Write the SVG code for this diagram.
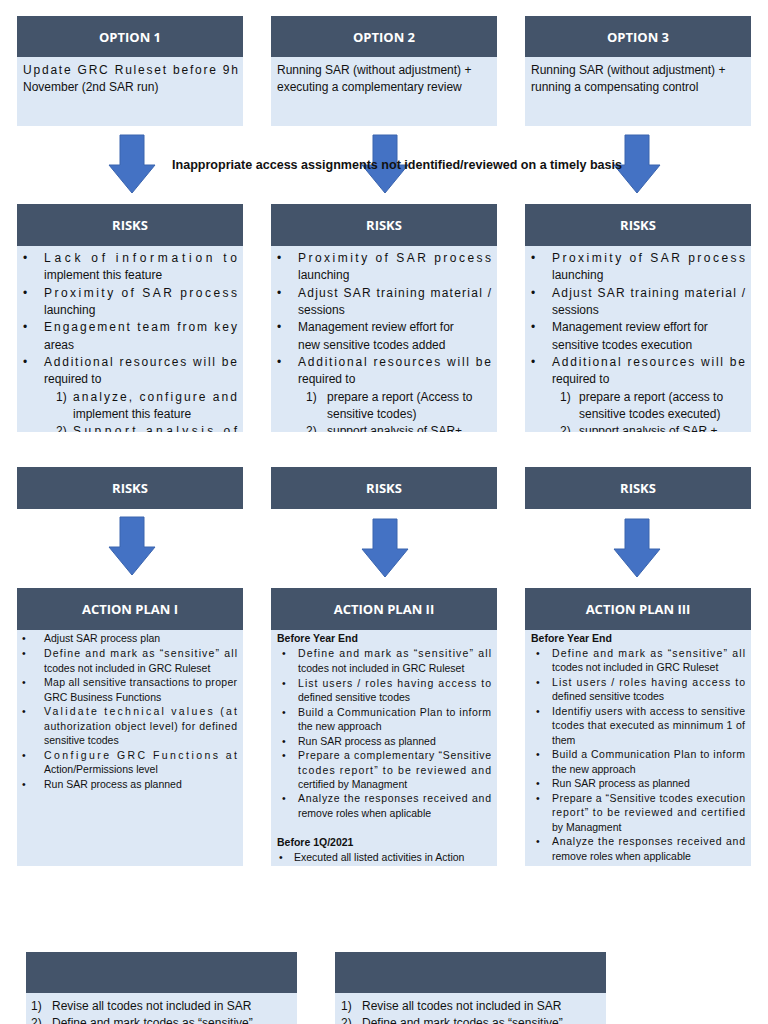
<svg xmlns="http://www.w3.org/2000/svg" width="768" height="1024" viewBox="0 0 768 1024">
<style>
.hd{fill:#44546A}
.bd{fill:#DDE8F5}
.ht{font-family:"Open Sans","Liberation Sans",sans-serif;font-weight:bold;font-size:13px;fill:#fff;text-anchor:middle}
.t{font-family:"Liberation Sans",sans-serif;font-size:12px;fill:#111}
.s{font-family:"Liberation Sans",sans-serif;font-size:10.5px;fill:#111}
.b{font-weight:bold}
.ar{fill:#4472C4;stroke:#3A64AE;stroke-width:1}
</style>
<defs>
<clipPath id="c1"><rect x="17" y="246" width="226" height="186"/></clipPath>
<clipPath id="c2"><rect x="271" y="246" width="226" height="186"/></clipPath>
<clipPath id="c3"><rect x="525" y="246" width="226" height="186"/></clipPath>
<clipPath id="cb"><rect x="0" y="993" width="768" height="31"/></clipPath>
<path id="arrow" d="M-12,0 H12 V30 H23 L0,58 L-23,30 H-12 Z"/>
</defs>
<rect width="768" height="1024" fill="#fff"/>

<g id="option1"><rect class="hd" x="17" y="16" width="226" height="41"/><rect class="bd" x="17" y="57" width="226" height="69"/>
<text class="ht" x="130" y="42">OPTION 1</text>
<text class="t" x="23" y="74" textLength="215" lengthAdjust="spacing">Update GRC Ruleset before 9h</text>
<text class="t" x="23" y="91">November (2nd SAR run)</text></g>
<g id="option2"><rect class="hd" x="271" y="16" width="226" height="41"/><rect class="bd" x="271" y="57" width="226" height="69"/>
<text class="ht" x="384" y="42">OPTION 2</text>
<text class="t" x="277" y="74">Running SAR (without adjustment) +</text>
<text class="t" x="277" y="91">executing a complementary review</text></g>
<g id="option3"><rect class="hd" x="525" y="16" width="226" height="41"/><rect class="bd" x="525" y="57" width="226" height="69"/>
<text class="ht" x="638" y="42">OPTION 3</text>
<text class="t" x="531" y="74">Running SAR (without adjustment) +</text>
<text class="t" x="531" y="91">running a compensating control</text></g>

<g id="connectors">
<use href="#arrow" class="ar" x="132" y="135"/>
<use href="#arrow" class="ar" x="385" y="135"/>
<use href="#arrow" class="ar" x="637" y="135"/>
<use href="#arrow" class="ar" x="132" y="517"/>
<use href="#arrow" class="ar" x="385" y="519"/>
<use href="#arrow" class="ar" x="637" y="519"/>
</g>
<text class="t b" x="397" y="169" text-anchor="middle" textLength="450" lengthAdjust="spacingAndGlyphs">Inappropriate access assignments not identified/reviewed on a timely basis</text>

<g id="risks1"><rect class="hd" x="17" y="204" width="226" height="42"/><rect class="bd" x="17" y="246" width="226" height="186"/>
<text class="ht" x="130" y="230">RISKS</text>
<g clip-path="url(#c1)" class="t">
<text x="23" y="262">•</text><text x="44" y="262" textLength="193" lengthAdjust="spacing">Lack of information to</text>
<text x="44" y="279">implement this feature</text>
<text x="23" y="297">•</text><text x="44" y="297" textLength="193" lengthAdjust="spacing">Proximity of SAR process</text>
<text x="44" y="314">launching</text>
<text x="23" y="331">•</text><text x="44" y="331" textLength="193" lengthAdjust="spacing">Engagement team from key</text>
<text x="44" y="349">areas</text>
<text x="23" y="366">•</text><text x="44" y="366" textLength="193" lengthAdjust="spacing">Additional resources will be</text>
<text x="44" y="383">required to</text>
<text x="56" y="401">1)</text><text x="73" y="401" textLength="164" lengthAdjust="spacing">analyze, configure and</text>
<text x="73" y="418">implement this feature</text>
<text x="56" y="435">2)</text><text x="73" y="435" textLength="164" lengthAdjust="spacing">Support analysis of</text>
</g></g>
<g id="risks2"><rect class="hd" x="271" y="204" width="226" height="42"/><rect class="bd" x="271" y="246" width="226" height="186"/>
<text class="ht" x="384" y="230">RISKS</text>
<g clip-path="url(#c2)" class="t">
<text x="277" y="262">•</text><text x="298" y="262" textLength="193" lengthAdjust="spacing">Proximity of SAR process</text>
<text x="298" y="279">launching</text>
<text x="277" y="297">•</text><text x="298" y="297" textLength="193" lengthAdjust="spacing">Adjust SAR training material /</text>
<text x="298" y="314">sessions</text>
<text x="277" y="331">•</text><text x="298" y="331">Management review effort for</text>
<text x="298" y="349">new sensitive tcodes added</text>
<text x="277" y="366">•</text><text x="298" y="366" textLength="193" lengthAdjust="spacing">Additional resources will be</text>
<text x="298" y="383">required to</text>
<text x="306" y="401">1)</text><text x="327" y="401">prepare a report (Access to</text>
<text x="327" y="418">sensitive tcodes)</text>
<text x="306" y="435">2)</text><text x="327" y="435">support analysis of SAR+</text>
</g></g>
<g id="risks3"><rect class="hd" x="525" y="204" width="226" height="42"/><rect class="bd" x="525" y="246" width="226" height="186"/>
<text class="ht" x="638" y="230">RISKS</text>
<g clip-path="url(#c3)" class="t">
<text x="531" y="262">•</text><text x="552" y="262" textLength="193" lengthAdjust="spacing">Proximity of SAR process</text>
<text x="552" y="279">launching</text>
<text x="531" y="297">•</text><text x="552" y="297" textLength="193" lengthAdjust="spacing">Adjust SAR training material /</text>
<text x="552" y="314">sessions</text>
<text x="531" y="331">•</text><text x="552" y="331">Management review effort for</text>
<text x="552" y="349">sensitive tcodes execution</text>
<text x="531" y="366">•</text><text x="552" y="366" textLength="193" lengthAdjust="spacing">Additional resources will be</text>
<text x="552" y="383">required to</text>
<text x="560" y="401">1)</text><text x="579" y="401">prepare a report (access to</text>
<text x="579" y="418">sensitive tcodes executed)</text>
<text x="560" y="435">2)</text><text x="579" y="435">support analysis of SAR +</text>
</g></g>

<g id="risksB1"><rect class="hd" x="17" y="467" width="226" height="42"/><text class="ht" x="130" y="493">RISKS</text></g>
<g id="risksB2"><rect class="hd" x="271" y="467" width="226" height="42"/><text class="ht" x="384" y="493">RISKS</text></g>
<g id="risksB3"><rect class="hd" x="525" y="467" width="226" height="42"/><text class="ht" x="638" y="493">RISKS</text></g>

<g id="plan1"><rect class="hd" x="17" y="588" width="226" height="42"/><rect class="bd" x="17" y="630" width="226" height="236"/>
<text class="ht" x="130" y="614">ACTION PLAN I</text>
<g class="s">
<text x="22" y="642">•</text><text x="44" y="642">Adjust SAR process plan</text>
<text x="22" y="657">•</text><text x="44" y="657" textLength="193" lengthAdjust="spacing">Define and mark as “sensitive” all</text>
<text x="44" y="672">tcodes not included in GRC Ruleset</text>
<text x="22" y="686">•</text><text x="44" y="686" textLength="193" lengthAdjust="spacing">Map all sensitive transactions to proper</text>
<text x="44" y="701">GRC Business Functions</text>
<text x="22" y="715">•</text><text x="44" y="715" textLength="193" lengthAdjust="spacing">Validate technical values (at</text>
<text x="44" y="730" textLength="193" lengthAdjust="spacing">authorization object level) for defined</text>
<text x="44" y="744">sensitive tcodes</text>
<text x="22" y="759">•</text><text x="44" y="759" textLength="193" lengthAdjust="spacing">Configure GRC Functions at</text>
<text x="44" y="773">Action/Permissions level</text>
<text x="22" y="788">•</text><text x="44" y="788">Run SAR process as planned</text>
</g></g>
<g id="plan2"><rect class="hd" x="271" y="588" width="226" height="42"/><rect class="bd" x="271" y="630" width="226" height="236"/>
<text class="ht" x="384" y="614">ACTION PLAN II</text>
<g class="s">
<text class="b" x="277" y="642">Before Year End</text>
<text x="282" y="657">•</text><text x="298" y="657" textLength="193" lengthAdjust="spacing">Define and mark as “sensitive” all</text>
<text x="298" y="672">tcodes not included in GRC Ruleset</text>
<text x="282" y="687">•</text><text x="298" y="687" textLength="193" lengthAdjust="spacing">List users / roles having access to</text>
<text x="298" y="701">defined sensitive tcodes</text>
<text x="282" y="716">•</text><text x="298" y="716" textLength="193" lengthAdjust="spacing">Build a Communication Plan to inform</text>
<text x="298" y="730">the new approach</text>
<text x="282" y="745">•</text><text x="298" y="745">Run SAR process as planned</text>
<text x="282" y="759">•</text><text x="298" y="759" textLength="193" lengthAdjust="spacing">Prepare a complementary “Sensitive</text>
<text x="298" y="774" textLength="193" lengthAdjust="spacing">tcodes report” to be reviewed and</text>
<text x="298" y="788">certified by Managment</text>
<text x="282" y="802">•</text><text x="298" y="802" textLength="193" lengthAdjust="spacing">Analyze the responses received and</text>
<text x="298" y="817">remove roles when aplicable</text>
<text class="b" x="277" y="846">Before 1Q/2021</text>
<text x="279" y="861">•</text><text x="294" y="861">Executed all listed activities in Action</text>
</g></g>
<g id="plan3"><rect class="hd" x="525" y="588" width="226" height="42"/><rect class="bd" x="525" y="630" width="226" height="236"/>
<text class="ht" x="638" y="614">ACTION PLAN III</text>
<g class="s">
<text class="b" x="531" y="642">Before Year End</text>
<text x="536" y="657">•</text><text x="552" y="657" textLength="193" lengthAdjust="spacing">Define and mark as “sensitive” all</text>
<text x="552" y="671">tcodes not included in GRC Ruleset</text>
<text x="536" y="686">•</text><text x="552" y="686" textLength="193" lengthAdjust="spacing">List users / roles having access to</text>
<text x="552" y="700">defined sensitive tcodes</text>
<text x="536" y="715">•</text><text x="552" y="715" textLength="193" lengthAdjust="spacing">Identifiy users with access to sensitive</text>
<text x="552" y="729" textLength="193" lengthAdjust="spacing">tcodes that executed as minnimum 1 of</text>
<text x="552" y="744">them</text>
<text x="536" y="758">•</text><text x="552" y="758" textLength="193" lengthAdjust="spacing">Build a Communication Plan to inform</text>
<text x="552" y="773">the new approach</text>
<text x="536" y="787">•</text><text x="552" y="787">Run SAR process as planned</text>
<text x="536" y="802">•</text><text x="552" y="802" textLength="193" lengthAdjust="spacing">Prepare a “Sensitive tcodes execution</text>
<text x="552" y="816" textLength="193" lengthAdjust="spacing">report” to be reviewed and certified</text>
<text x="552" y="831">by Managment</text>
<text x="536" y="845">•</text><text x="552" y="845" textLength="193" lengthAdjust="spacing">Analyze the responses received and</text>
<text x="552" y="860">remove roles when applicable</text>
</g></g>

<g id="bottom1"><rect class="hd" x="26" y="952" width="271" height="41"/><rect class="bd" x="26" y="993" width="271" height="31"/>
<g clip-path="url(#cb)" class="t">
<text x="31" y="1010">1)</text><text x="52" y="1010">Revise all tcodes not included in SAR</text>
<text x="31" y="1027">2)</text><text x="52" y="1027">Define and mark tcodes as “sensitive”</text>
</g></g>
<g id="bottom2"><rect class="hd" x="335" y="952" width="271" height="41"/><rect class="bd" x="335" y="993" width="271" height="31"/>
<g clip-path="url(#cb)" class="t">
<text x="341" y="1010">1)</text><text x="362" y="1010">Revise all tcodes not included in SAR</text>
<text x="341" y="1027">2)</text><text x="362" y="1027">Define and mark tcodes as “sensitive”</text>
</g></g>
</svg>
